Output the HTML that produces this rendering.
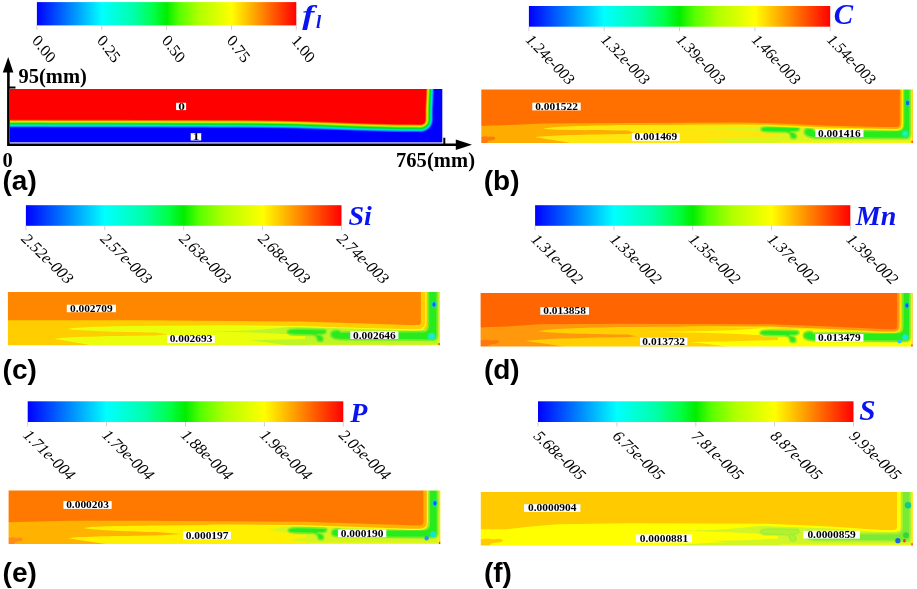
<!DOCTYPE html>
<html lang="en"><head><meta charset="utf-8"><title>Figure</title>
<style>
html,body{margin:0;padding:0;background:#fff}
body{width:917px;height:589px;overflow:hidden;position:relative}
svg{display:block}
.tk{font-family:"Liberation Serif",serif;font-style:italic;fill:#000}
.nm{font-family:"Liberation Serif",serif;font-style:italic;font-weight:bold;fill:#0a14f0}
.lb{font-family:"Liberation Serif",serif;font-weight:bold;fill:#000}
.ax{font-family:"Liberation Serif",serif;font-weight:bold;font-size:20.5px;fill:#000}
.pl{font-family:"Liberation Sans",sans-serif;font-weight:bold;font-size:28px;fill:#000}
</style></head><body>
<svg id="fig" width="917" height="589" viewBox="0 0 917 589">
<defs><linearGradient id="jet" x1="0" y1="0" x2="1" y2="0"><stop offset="0" stop-color="#0000ff"/><stop offset="0.25" stop-color="#00ffff"/><stop offset="0.375" stop-color="#00ffa8"/><stop offset="0.45" stop-color="#00ff48"/><stop offset="0.5" stop-color="#00ee00"/><stop offset="0.55" stop-color="#58ff00"/><stop offset="0.625" stop-color="#b0ff00"/><stop offset="0.75" stop-color="#ffff00"/><stop offset="1" stop-color="#ff0000"/></linearGradient><filter id="bl" x="-2%" y="-10%" width="104%" height="120%"><feGaussianBlur stdDeviation="0.45"/></filter><clipPath id="ca"><rect x="10" y="89" width="432.3" height="53.4"/></clipPath></defs>
<rect width="917" height="589" fill="#fff"/>
<rect x="36.9" y="2.1" width="259.4" height="23.3" fill="url(#jet)"/>
<line x1="36.9" y1="25.4" x2="36.9" y2="29.9" stroke="#c4c4c4" stroke-width="0.8"/>
<text class="tk" font-size="16" transform="translate(32.1 41.5) scale(0.87 1.17) rotate(45)">0.00</text>
<line x1="101.8" y1="25.4" x2="101.8" y2="29.9" stroke="#c4c4c4" stroke-width="0.8"/>
<text class="tk" font-size="16" transform="translate(97 41.5) scale(0.87 1.17) rotate(45)">0.25</text>
<line x1="166.6" y1="25.4" x2="166.6" y2="29.9" stroke="#c4c4c4" stroke-width="0.8"/>
<text class="tk" font-size="16" transform="translate(161.8 41.5) scale(0.87 1.17) rotate(45)">0.50</text>
<line x1="231.5" y1="25.4" x2="231.5" y2="29.9" stroke="#c4c4c4" stroke-width="0.8"/>
<text class="tk" font-size="16" transform="translate(226.7 41.5) scale(0.87 1.17) rotate(45)">0.75</text>
<line x1="296.3" y1="25.4" x2="296.3" y2="29.9" stroke="#c4c4c4" stroke-width="0.8"/>
<text class="tk" font-size="16" transform="translate(291.5 41.5) scale(0.87 1.17) rotate(45)">1.00</text>
<text class="nm" font-size="28" transform="translate(302.2 24.2) scale(1.3 1)">f</text>
<text class="nm" font-size="18.5" x="316" y="27.8">l</text>
<rect x="10" y="89" width="432.3" height="53.4" fill="#0000ff"/>
<g clip-path="url(#ca)">
<polygon points="5,84 434.1,84 434.1,89 433.1,110 433.1,119.8 432.9,122.2 432.2,124.5 431,126.7 429.5,128.5 427.6,130.1 425.4,131.2 423.1,131.9 420.7,132.2 416.7,132.1 396.7,132 376.7,131.5 356.7,130.9 336.7,130.1 316.7,129.4 296.7,128.7 276.7,128.3 256.7,128 236.7,127.9 216.7,127.9 196.7,127.8 176.7,127.8 156.7,127.7 136.7,127.7 116.7,127.6 96.7,127.6 76.7,127.6 56.7,127.6 36.7,127.5 16.7,127.5 5,127.5" fill="#0040ff"/>
<polygon points="5,84 433.5,84 433.5,89 432.5,110 432.5,119.8 432.3,122.1 431.6,124.3 430.5,126.3 429,128.1 427.3,129.6 425.2,130.7 423,131.3 420.7,131.6 416.7,131.5 396.7,131.4 376.7,130.9 356.7,130.3 336.7,129.5 316.7,128.8 296.7,128.1 276.7,127.7 256.7,127.4 236.7,127.3 216.7,127.3 196.7,127.2 176.7,127.2 156.7,127.1 136.7,127.1 116.7,127 96.7,127 76.7,127 56.7,127 36.7,126.9 16.7,126.9 5,126.9" fill="#0082ff"/>
<polygon points="5,84 432.9,84 432.9,89 431.9,110 431.9,119.8 431.7,121.9 431,124.1 430,126 428.6,127.7 426.9,129.1 425,130.1 422.9,130.7 420.7,131 416.7,130.9 396.7,130.8 376.7,130.3 356.7,129.7 336.7,128.9 316.7,128.2 296.7,127.5 276.7,127.1 256.7,126.8 236.7,126.7 216.7,126.7 196.7,126.6 176.7,126.6 156.7,126.5 136.7,126.5 116.7,126.4 96.7,126.4 76.7,126.4 56.7,126.4 36.7,126.3 16.7,126.3 5,126.3" fill="#00c4ff"/>
<polygon points="5,84 432.3,84 432.3,89 431.3,110 431.3,119.8 431.1,121.8 430.5,123.8 429.5,125.7 428.2,127.3 426.6,128.6 424.8,129.6 422.8,130.2 420.7,130.4 416.7,130.3 396.7,130.2 376.7,129.7 356.7,129.1 336.7,128.3 316.7,127.6 296.7,126.9 276.7,126.5 256.7,126.2 236.7,126.1 216.7,126.1 196.7,126 176.7,126 156.7,125.9 136.7,125.9 116.7,125.8 96.7,125.8 76.7,125.8 56.7,125.8 36.7,125.7 16.7,125.7 5,125.7" fill="#00e5dc"/>
<polygon points="5,84 431.7,84 431.7,89 430.7,110 430.7,119.8 430.5,121.7 429.9,123.6 429,125.3 427.8,126.8 426.3,128.1 424.5,129 422.7,129.6 420.7,129.8 416.7,129.7 396.7,129.6 376.7,129.1 356.7,128.5 336.7,127.7 316.7,127 296.7,126.3 276.7,125.9 256.7,125.6 236.7,125.5 216.7,125.5 196.7,125.4 176.7,125.4 156.7,125.3 136.7,125.3 116.7,125.2 96.7,125.2 76.7,125.2 56.7,125.2 36.7,125.1 16.7,125.1 5,125.1" fill="#00e493"/>
<polygon points="5,84 431.1,84 431.1,89 430.1,110 430.1,119.8 429.9,121.6 429.4,123.4 428.5,125 427.3,126.4 425.9,127.6 424.3,128.4 422.5,129 420.7,129.2 416.7,129.1 396.7,129 376.7,128.5 356.7,127.9 336.7,127.1 316.7,126.4 296.7,125.7 276.7,125.3 256.7,125 236.7,124.9 216.7,124.9 196.7,124.8 176.7,124.8 156.7,124.7 136.7,124.7 116.7,124.6 96.7,124.6 76.7,124.6 56.7,124.6 36.7,124.5 16.7,124.5 5,124.5" fill="#00e24a"/>
<polygon points="5,84 430.5,84 430.5,89 429.5,110 429.5,119.8 429.3,121.5 428.8,123.1 428,124.7 426.9,126 425.6,127.1 424.1,127.9 422.4,128.4 420.7,128.6 416.7,128.5 396.7,128.4 376.7,127.9 356.7,127.3 336.7,126.5 316.7,125.8 296.7,125.1 276.7,124.7 256.7,124.4 236.7,124.3 216.7,124.3 196.7,124.2 176.7,124.2 156.7,124.1 136.7,124.1 116.7,124 96.7,124 76.7,124 56.7,124 36.7,123.9 16.7,123.9 5,123.9" fill="#00e101"/>
<polygon points="5,84 429.9,84 429.9,89 428.9,110 428.9,119.8 428.7,121.4 428.3,122.9 427.5,124.3 426.5,125.6 425.3,126.6 423.8,127.3 422.3,127.8 420.7,128 416.7,127.9 396.7,127.8 376.7,127.3 356.7,126.7 336.7,125.9 316.7,125.2 296.7,124.5 276.7,124.1 256.7,123.8 236.7,123.7 216.7,123.7 196.7,123.6 176.7,123.6 156.7,123.5 136.7,123.5 116.7,123.4 96.7,123.4 76.7,123.4 56.7,123.4 36.7,123.3 16.7,123.3 5,123.3" fill="#47e700"/>
<polygon points="5,84 429.3,84 429.3,89 428.3,110 428.3,119.8 428.2,121.2 427.7,122.7 427,124 426.1,125.1 424.9,126.1 423.6,126.8 422.2,127.2 420.7,127.4 416.7,127.3 396.7,127.2 376.7,126.7 356.7,126.1 336.7,125.3 316.7,124.6 296.7,123.9 276.7,123.5 256.7,123.2 236.7,123.1 216.7,123.1 196.7,123 176.7,123 156.7,122.9 136.7,122.9 116.7,122.8 96.7,122.8 76.7,122.8 56.7,122.8 36.7,122.7 16.7,122.7 5,122.7" fill="#8eec00"/>
<polygon points="5,84 428.7,84 428.7,89 427.7,110 427.7,119.8 427.6,121.1 427.2,122.4 426.5,123.7 425.6,124.7 424.6,125.6 423.4,126.2 422.1,126.6 420.7,126.8 416.7,126.7 396.7,126.6 376.7,126.1 356.7,125.5 336.7,124.7 316.7,124 296.7,123.3 276.7,122.9 256.7,122.6 236.7,122.5 216.7,122.5 196.7,122.4 176.7,122.4 156.7,122.3 136.7,122.3 116.7,122.2 96.7,122.2 76.7,122.2 56.7,122.2 36.7,122.1 16.7,122.1 5,122.1" fill="#d6f200"/>
<polygon points="5,84 428.1,84 428.1,89 427.1,110 427.1,119.8 427,121 426.6,122.2 426,123.3 425.2,124.3 424.3,125.1 423.1,125.7 421.9,126 420.7,126.2 416.7,126.1 396.7,126 376.7,125.5 356.7,124.9 336.7,124.1 316.7,123.4 296.7,122.7 276.7,122.3 256.7,122 236.7,121.9 216.7,121.9 196.7,121.8 176.7,121.8 156.7,121.7 136.7,121.7 116.7,121.6 96.7,121.6 76.7,121.6 56.7,121.6 36.7,121.5 16.7,121.5 5,121.5" fill="#fbd200"/>
<polygon points="5,84 427.5,84 427.5,89 426.5,110 426.5,119.8 426.4,120.9 426.1,122 425.5,123 424.8,123.9 423.9,124.6 422.9,125.1 421.8,125.5 420.7,125.6 416.7,125.5 396.7,125.4 376.7,124.9 356.7,124.3 336.7,123.5 316.7,122.8 296.7,122.1 276.7,121.7 256.7,121.4 236.7,121.3 216.7,121.3 196.7,121.2 176.7,121.2 156.7,121.1 136.7,121.1 116.7,121 96.7,121 76.7,121 56.7,121 36.7,120.9 16.7,120.9 5,120.9" fill="#fc8c00"/>
<polygon points="5,84 426.9,84 426.9,89 425.9,110 425.9,119.8 425.8,120.8 425.5,121.8 425,122.7 424.4,123.4 423.6,124.1 422.7,124.6 421.7,124.9 420.7,125 416.7,124.9 396.7,124.8 376.7,124.3 356.7,123.7 336.7,122.9 316.7,122.2 296.7,121.5 276.7,121.1 256.7,120.8 236.7,120.7 216.7,120.7 196.7,120.6 176.7,120.6 156.7,120.5 136.7,120.5 116.7,120.4 96.7,120.4 76.7,120.4 56.7,120.4 36.7,120.3 16.7,120.3 5,120.3" fill="#fe4600"/>
<polygon points="5,84 426.3,84 426.3,89 425.3,110 425.3,119.8 425.2,120.7 424.9,121.5 424.5,122.3 424,123 423.3,123.6 422.5,124 421.6,124.3 420.7,124.4 416.7,124.3 396.7,124.2 376.7,123.7 356.7,123.1 336.7,122.3 316.7,121.6 296.7,120.9 276.7,120.5 256.7,120.2 236.7,120.1 216.7,120.1 196.7,120 176.7,120 156.7,119.9 136.7,119.9 116.7,119.8 96.7,119.8 76.7,119.8 56.7,119.8 36.7,119.7 16.7,119.7 5,119.7" fill="#ff0000"/>
</g>
<rect x="176.1" y="102.8" width="10" height="7.3" fill="#fff"/>
<text class="lb" font-size="9.8" text-anchor="middle" transform="translate(181.5 109.7) scale(1.35 1)">0</text>
<rect x="190.7" y="133.2" width="10.5" height="7.3" fill="#fff"/>
<text class="lb" font-size="9.8" text-anchor="middle" transform="translate(196.1 140) scale(1.35 1)">1</text>
<path d="M8.4 70V144.8H458" fill="none" stroke="#000" stroke-width="2.6"/>
<path d="M8.2 57L2.8 72.6H13.4Z M472 144.8L455.8 139.5V150.1Z" fill="#000"/>
<path d="M9 87.6H15.5M444.3 137.7V144.5" stroke="#000" stroke-width="2"/>
<text class="ax" x="18.5" y="82.8">95(mm)</text>
<text class="ax" x="2.5" y="166.6">0</text>
<text class="ax" x="395.9" y="167" letter-spacing="0.1">765(mm)</text>
<rect x="528.9" y="6" width="301.3" height="20.7" fill="url(#jet)"/>
<line x1="528.9" y1="26.7" x2="528.9" y2="31.2" stroke="#c4c4c4" stroke-width="0.8"/>
<text class="tk" font-size="16" transform="translate(524.9 40.4) scale(0.957 1.0) rotate(45)">1.24e-003</text>
<line x1="604.2" y1="26.7" x2="604.2" y2="31.2" stroke="#c4c4c4" stroke-width="0.8"/>
<text class="tk" font-size="16" transform="translate(600.2 40.4) scale(0.957 1.0) rotate(45)">1.32e-003</text>
<line x1="679.5" y1="26.7" x2="679.5" y2="31.2" stroke="#c4c4c4" stroke-width="0.8"/>
<text class="tk" font-size="16" transform="translate(675.5 40.4) scale(0.957 1.0) rotate(45)">1.39e-003</text>
<line x1="754.9" y1="26.7" x2="754.9" y2="31.2" stroke="#c4c4c4" stroke-width="0.8"/>
<text class="tk" font-size="16" transform="translate(750.9 40.4) scale(0.957 1.0) rotate(45)">1.46e-003</text>
<line x1="830.2" y1="26.7" x2="830.2" y2="31.2" stroke="#c4c4c4" stroke-width="0.8"/>
<text class="tk" font-size="16" transform="translate(826.2 40.4) scale(0.957 1.0) rotate(45)">1.54e-003</text>
<text class="nm" font-size="29" x="833.8" y="23.9">C</text>
<svg x="481.3" y="89.5" width="431.6" height="53.5" viewBox="0 0 431.6 53.5" overflow="hidden">
<g filter="url(#bl)">
<rect x="-3" y="-3" width="437.6" height="59.5" fill="#ffac00"/>
<path d="M61.3 39.3 C69.3 37.1 101.3 36.1 147 35.5 L212 35.1 L431.6 39.5 L431.6 54.5 L95 54.5 C75 50.9 63.7 49.4 53.7 47.8 C65.7 46 103.7 45.1 147 44.6 L152 43.2 L147 41 C111.3 40.8 73.3 41.1 61.3 39.3 Z" fill="#ffe60a"/>
<path d="M169 39.5 C249.6 39 262 38.3 281 36.7 L340 38.5 L431.6 40.4 L431.6 54.5 L300 54.5 C296 47 296 41.2 302 41.2 L281 42 C264 41.6 249.6 40.2 169 39.5 Z" fill="#dcf51e"/>
<path d="M211 49.5 C259.9 48.9 285 47.4 300 46.6 L306 54.5 L256 54.5 C241 52.5 226 50.5 211 49.5 Z" fill="#dcf51e"/>
<rect x="300" y="51.9" width="131.6" height="4" fill="#f5f514"/>
<rect x="429.4" y="-1" width="3" height="55.5" fill="#f5f514"/>
<rect x="430.7" y="-1" width="2" height="55.5" fill="#ffd200"/>
<path d="M279.6 39.7 C279.8 37.6 283 37 290 37 L300 37.2 L316 37.6 C319 38 319 41 315.5 41.8 L309 42.4 C312 42.6 315.4 44.2 315.2 47 C315 50 309.5 50.2 309.2 46.6 C309 44.4 308 42.8 304 42.6 L288 42.4 C283 42.3 279.6 42 279.6 39.7 Z" fill="#c3f028" stroke="#c3f028" stroke-width="3" stroke-linejoin="round"/>
<path d="M279.6 39.7 C279.8 37.6 283 37 290 37 L300 37.2 L316 37.6 C319 38 319 41 315.5 41.8 L309 42.4 C312 42.6 315.4 44.2 315.2 47 C315 50 309.5 50.2 309.2 46.6 C309 44.4 308 42.8 304 42.6 L288 42.4 C283 42.3 279.6 42 279.6 39.7 Z" fill="#28eb1e" stroke="#82eb28" stroke-width="1.4" stroke-linejoin="round"/>
<path d="M323 42.6 C323 37.6 331 37.6 333 41.4 L416.2 41 Q422.2 41 422.2 35 L422.2 -1 L428.8 -1 L428.8 44.5 Q428.8 49 424.3 49 L333 48.4 C330 48 323 47 323 42.6 Z" fill="#c3f028" stroke="#c3f028" stroke-width="3" stroke-linejoin="round"/>
<path d="M323 42.6 C323 37.6 331 37.6 333 41.4 L416.2 41 Q422.2 41 422.2 35 L422.2 -1 L428.8 -1 L428.8 44.5 Q428.8 49 424.3 49 L333 48.4 C330 48 323 47 323 42.6 Z" fill="#28eb1e" stroke="#82eb28" stroke-width="1.6" stroke-linejoin="round"/>
<ellipse cx="426.2" cy="13.5" rx="2.6" ry="3.4" fill="#14dc8c"/>
<ellipse cx="426.2" cy="13.5" rx="1.5" ry="2.2" fill="#1450ff"/>
<ellipse cx="423.8" cy="44.2" rx="3.4" ry="3.4" fill="#14f096"/>
<ellipse cx="423.8" cy="44.2" rx="1.8" ry="1.8" fill="#28f0c8"/>
<rect x="430.2" y="51.3" width="3" height="4" fill="#ff3c00"/>
<path d="M-1 47.5 L4 46.7 L8 47.3 L12 46.9 C15 47.9 15 50.1 11 50.7 L7 51.3 L4.5 54.5 L-1 54.5 Z" fill="#ff7a10"/>
<path d="M-3 -3 L421.8 -3 L421.8 34 Q421.8 40.9 414.9 40.9 L400 40.8 L349 39.5 L286 36.8 L260 36.4 L200 35.1 L200 -3 Z" fill="#fff000"/>
<path d="M-3 -3 L420.3 -3 L420.3 34 Q420.3 39.4 414.9 39.4 L400 39.3 L349 38 L286 35.3 L259 34.9 L147 35.3 L62 35.7 L30 37.2 L-3 38.2 Z" fill="#ffac00"/>
<path d="M-3 -3 L418.5 -3 L418.5 34 Q418.5 37.6 414.9 37.6 L400 37.5 L349 36.2 L286 33.5 L259 33.1 L147 33.5 L62 33.9 L30 35.4 L-3 36.4 Z" fill="#ff7000"/>
</g></svg>
<rect x="532.3" y="102.7" width="48.4" height="7.7" fill="#fff"/>
<text class="lb" font-size="11.4" text-anchor="middle" transform="translate(556.5 109.9) scale(1.0 1)">0.001522</text>
<rect x="632" y="133.3" width="47.7" height="7.5" fill="#fff"/>
<text class="lb" font-size="11.4" text-anchor="middle" transform="translate(655.9 140.3) scale(1.0 1)">0.001469</text>
<rect x="815.3" y="129.2" width="48.2" height="7.8" fill="#fff"/>
<text class="lb" font-size="11.4" text-anchor="middle" transform="translate(839.4 136.5) scale(1.0 1)">0.001416</text>
<rect x="25.9" y="205.2" width="315.6" height="20.6" fill="url(#jet)"/>
<line x1="25.9" y1="225.8" x2="25.9" y2="230.3" stroke="#c4c4c4" stroke-width="0.8"/>
<text class="tk" font-size="16" transform="translate(20.5 239.7) scale(1.02 0.99) rotate(45)">2.52e-003</text>
<line x1="104.8" y1="225.8" x2="104.8" y2="230.3" stroke="#c4c4c4" stroke-width="0.8"/>
<text class="tk" font-size="16" transform="translate(99.4 239.7) scale(1.02 0.99) rotate(45)">2.57e-003</text>
<line x1="183.7" y1="225.8" x2="183.7" y2="230.3" stroke="#c4c4c4" stroke-width="0.8"/>
<text class="tk" font-size="16" transform="translate(178.3 239.7) scale(1.02 0.99) rotate(45)">2.63e-003</text>
<line x1="262.6" y1="225.8" x2="262.6" y2="230.3" stroke="#c4c4c4" stroke-width="0.8"/>
<text class="tk" font-size="16" transform="translate(257.2 239.7) scale(1.02 0.99) rotate(45)">2.68e-003</text>
<line x1="341.5" y1="225.8" x2="341.5" y2="230.3" stroke="#c4c4c4" stroke-width="0.8"/>
<text class="tk" font-size="16" transform="translate(336.1 239.7) scale(1.02 0.99) rotate(45)">2.74e-003</text>
<text class="nm" font-size="28" x="348.4" y="224.6">Si</text>
<svg x="7.9" y="292.1" width="431.9" height="53.2" viewBox="0 0 431.9 53.2" overflow="hidden">
<g filter="url(#bl)">
<rect x="-3" y="-3" width="437.9" height="59.2" fill="#ffcd00"/>
<path d="M59.2 36.9 C67.2 34.7 99.2 34.2 147 33.6 L220 33.2 L431.9 37.3 L431.9 54.2 L88.6 54.2 C68.6 50.6 56 48.3 46 46.7 C58 44.9 96 43.9 147 43.4 L160 42.2 L147 40.4 C109.2 40.2 71.2 38.7 59.2 36.9 Z" fill="#ebff0a"/>
<path d="M194 39.3 C256.6 38.8 262 36.6 281 35 L340 36 L431.9 38 L431.9 54.2 L300 54.2 C296 47 296 41.2 302 41.2 L281 42 C264 41.6 256.6 40 194 39.3 Z" fill="#bef528"/>
<path d="M240 48 C273 47.4 285 47.4 300 46.6 L306 54.2 L285 54.2 C270 52.2 255 49 240 48 Z" fill="#bef528"/>
<rect x="300" y="51.6" width="131.9" height="4" fill="#d2f528"/>
<rect x="429.7" y="-1" width="3" height="55.2" fill="#d2f528"/>
<rect x="431" y="-1" width="2" height="55.2" fill="#ffdc00"/>
<path d="M279.6 39.7 C279.8 37.6 283 37 290 37 L300 37.2 L316 37.6 C319 38 319 41 315.5 41.8 L309 42.4 C312 42.6 315.4 44.2 315.2 47 C315 50 309.5 50.2 309.2 46.6 C309 44.4 308 42.8 304 42.6 L288 42.4 C283 42.3 279.6 42 279.6 39.7 Z" fill="#aaf028" stroke="#aaf028" stroke-width="3" stroke-linejoin="round"/>
<path d="M279.6 39.7 C279.8 37.6 283 37 290 37 L300 37.2 L316 37.6 C319 38 319 41 315.5 41.8 L309 42.4 C312 42.6 315.4 44.2 315.2 47 C315 50 309.5 50.2 309.2 46.6 C309 44.4 308 42.8 304 42.6 L288 42.4 C283 42.3 279.6 42 279.6 39.7 Z" fill="#28eb1e" stroke="#6eeb28" stroke-width="1.4" stroke-linejoin="round"/>
<path d="M323 42.6 C323 37.6 331 37.6 333 40.1 L414.6 39.7 Q420.6 39.7 420.6 33.7 L420.6 -1 L429.1 -1 L429.1 43.4 Q429.1 47.9 424.6 47.9 L333 47.3 C330 46.9 323 47 323 42.6 Z" fill="#aaf028" stroke="#aaf028" stroke-width="3" stroke-linejoin="round"/>
<path d="M323 42.6 C323 37.6 331 37.6 333 40.1 L414.6 39.7 Q420.6 39.7 420.6 33.7 L420.6 -1 L429.1 -1 L429.1 43.4 Q429.1 47.9 424.6 47.9 L333 47.3 C330 46.9 323 47 323 42.6 Z" fill="#28eb1e" stroke="#6eeb28" stroke-width="1.6" stroke-linejoin="round"/>
<ellipse cx="426.1" cy="12.3" rx="2.8" ry="3.6" fill="#14dcb4"/>
<ellipse cx="426.1" cy="12.3" rx="1.5" ry="2.2" fill="#1450ff"/>
<ellipse cx="423.7" cy="44.2" rx="3.6" ry="3.6" fill="#14f0b4"/>
<ellipse cx="423.7" cy="44.2" rx="2" ry="2" fill="#28dcf0"/>
<rect x="430.5" y="51" width="3" height="4" fill="#ff3c00"/>
<path d="M-3 -3 L418.5 -3 L418.5 29.3 Q418.5 38.4 409.4 38.4 L401 38.3 L340 36.5 L292 35 L260 34.7 L200 33 L200 -3 Z" fill="#f0ff19"/>
<path d="M-3 -3 L417.3 -3 L417.3 29.3 Q417.3 37.2 409.4 37.2 L401 37.1 L340 35.3 L292 33.8 L142 32.5 L-3 32.5 Z" fill="#ffcd00"/>
<path d="M-3 -3 L413 -3 L413 29.3 Q413 32.9 409.4 32.9 L401 32.8 L340 31 L292 29.5 L142 28.2 L-3 28.2 Z" fill="#ff8700"/>
</g></svg>
<rect x="66.8" y="304.7" width="49.1" height="7.5" fill="#fff"/>
<text class="lb" font-size="11.4" text-anchor="middle" transform="translate(91.3 311.7) scale(1.0 1)">0.002709</text>
<rect x="167.2" y="335" width="47.6" height="7.9" fill="#fff"/>
<text class="lb" font-size="11.4" text-anchor="middle" transform="translate(191 342.4) scale(1.0 1)">0.002693</text>
<rect x="350.3" y="331.2" width="48.1" height="7.8" fill="#fff"/>
<text class="lb" font-size="11.4" text-anchor="middle" transform="translate(374.4 338.5) scale(1.0 1)">0.002646</text>
<rect x="535.1" y="205.2" width="315.2" height="20.6" fill="url(#jet)"/>
<line x1="535.1" y1="225.8" x2="535.1" y2="230.3" stroke="#c4c4c4" stroke-width="0.8"/>
<text class="tk" font-size="16" transform="translate(530.2 240.2) scale(1.015 0.99) rotate(45)">1.31e-002</text>
<line x1="613.9" y1="225.8" x2="613.9" y2="230.3" stroke="#c4c4c4" stroke-width="0.8"/>
<text class="tk" font-size="16" transform="translate(609 240.2) scale(1.015 0.99) rotate(45)">1.33e-002</text>
<line x1="692.7" y1="225.8" x2="692.7" y2="230.3" stroke="#c4c4c4" stroke-width="0.8"/>
<text class="tk" font-size="16" transform="translate(687.8 240.2) scale(1.015 0.99) rotate(45)">1.35e-002</text>
<line x1="771.5" y1="225.8" x2="771.5" y2="230.3" stroke="#c4c4c4" stroke-width="0.8"/>
<text class="tk" font-size="16" transform="translate(766.6 240.2) scale(1.015 0.99) rotate(45)">1.37e-002</text>
<line x1="850.3" y1="225.8" x2="850.3" y2="230.3" stroke="#c4c4c4" stroke-width="0.8"/>
<text class="tk" font-size="16" transform="translate(845.4 240.2) scale(1.015 0.99) rotate(45)">1.39e-002</text>
<text class="nm" font-size="28" x="855.8" y="224.7">Mn</text>
<svg x="480.6" y="293.1" width="432.1" height="53.5" viewBox="0 0 432.1 53.5" overflow="hidden">
<g filter="url(#bl)">
<rect x="-3" y="-3" width="438.1" height="59.5" fill="#ff980a"/>
<path d="M57.7 38.1 C65.7 35.9 97.7 34.5 147 33.9 L216 33.3 L432.1 38.6 L432.1 54.5 L88 54.5 C68 50.9 55.5 49.5 45.5 47.9 C57.5 46.1 95.5 44.7 147 44.2 L156 43.2 L147 41.4 C107.7 41.2 69.7 39.9 57.7 38.1 Z" fill="#ffcf05"/>
<path d="M160.7 38.8 C247.3 38.3 262 36.6 281 35 L340 36.4 L432.1 39.5 L432.1 54.5 L300 54.5 C296 47 296 41.2 302 41.2 L281 42 C264 41.6 247.3 39.5 160.7 38.8 Z" fill="#ffff00"/>
<path d="M208 49 C258.6 48.4 285 47.4 300 46.6 L306 54.5 L253 54.5 C238 52.5 223 50 208 49 Z" fill="#ffff00"/>
<rect x="300" y="51.9" width="132.1" height="4" fill="#ffff00"/>
<rect x="429.9" y="-1" width="3" height="55.5" fill="#ffff00"/>
<rect x="431.2" y="-1" width="2" height="55.5" fill="#ffc800"/>
<path d="M279.6 39.7 C279.8 37.6 283 37 290 37 L300 37.2 L316 37.6 C319 38 319 41 315.5 41.8 L309 42.4 C312 42.6 315.4 44.2 315.2 47 C315 50 309.5 50.2 309.2 46.6 C309 44.4 308 42.8 304 42.6 L288 42.4 C283 42.3 279.6 42 279.6 39.7 Z" fill="#d2f51e" stroke="#d2f51e" stroke-width="3" stroke-linejoin="round"/>
<path d="M279.6 39.7 C279.8 37.6 283 37 290 37 L300 37.2 L316 37.6 C319 38 319 41 315.5 41.8 L309 42.4 C312 42.6 315.4 44.2 315.2 47 C315 50 309.5 50.2 309.2 46.6 C309 44.4 308 42.8 304 42.6 L288 42.4 C283 42.3 279.6 42 279.6 39.7 Z" fill="#28eb1e" stroke="#82eb28" stroke-width="1.4" stroke-linejoin="round"/>
<path d="M323 42.6 C323 37.6 331 37.6 333 40.1 L416.2 39.7 Q422.2 39.7 422.2 33.7 L422.2 -1 L429.3 -1 L429.3 43.7 Q429.3 48.2 424.8 48.2 L333 47.6 C330 47.2 323 47 323 42.6 Z" fill="#d2f51e" stroke="#d2f51e" stroke-width="3" stroke-linejoin="round"/>
<path d="M323 42.6 C323 37.6 331 37.6 333 40.1 L416.2 39.7 Q422.2 39.7 422.2 33.7 L422.2 -1 L429.3 -1 L429.3 43.7 Q429.3 48.2 424.8 48.2 L333 47.6 C330 47.2 323 47 323 42.6 Z" fill="#28eb1e" stroke="#82eb28" stroke-width="1.6" stroke-linejoin="round"/>
<ellipse cx="426.3" cy="12.3" rx="2.6" ry="3.4" fill="#14dc8c"/>
<ellipse cx="426.3" cy="12.3" rx="1.5" ry="2.2" fill="#1450ff"/>
<ellipse cx="424.6" cy="44.2" rx="3" ry="3" fill="#14e6dc"/>
<ellipse cx="418.9" cy="48.2" rx="2.2" ry="2.2" fill="#28c8f0"/>
<rect x="430.7" y="51.3" width="3" height="4" fill="#ff3c00"/>
<path d="M-1 47.5 L5.3 46.7 L10.6 47.3 L15.9 46.9 C19.8 47.9 19.8 50.1 14.5 50.7 L9.2 51.3 L5.9 54.5 L-1 54.5 Z" fill="#ff780a"/>
<path d="M-3 -3 L420.4 -3 L420.4 32.5 Q420.4 40 412.9 40 L401 39.9 L350 37.4 L290 35 L260 34.9 L200 33.2 L200 -3 Z" fill="#ffe600"/>
<path d="M-3 -3 L418.9 -3 L418.9 32.5 Q418.9 38.5 412.9 38.5 L401 38.4 L350 35.9 L290 33.5 L140 33 L58.6 33.5 L25 35.9 L-3 36.7 Z" fill="#ff980a"/>
<path d="M-3 -3 L416.5 -3 L416.5 32.5 Q416.5 36.1 412.9 36.1 L401 36 L350 33.5 L290 31.1 L140 30.6 L58.6 31.1 L25 33.5 L-3 34.3 Z" fill="#ff6500"/>
</g></svg>
<rect x="540.3" y="307.2" width="48.7" height="7.5" fill="#fff"/>
<text class="lb" font-size="11.4" text-anchor="middle" transform="translate(564.6 314.2) scale(1.0 1)">0.013858</text>
<rect x="640" y="337.7" width="47.4" height="7.7" fill="#fff"/>
<text class="lb" font-size="11.4" text-anchor="middle" transform="translate(663.7 344.9) scale(1.0 1)">0.013732</text>
<rect x="815.3" y="334" width="48.2" height="7.8" fill="#fff"/>
<text class="lb" font-size="11.4" text-anchor="middle" transform="translate(839.4 341.3) scale(1.0 1)">0.013479</text>
<rect x="27.7" y="401.3" width="315.6" height="20.7" fill="url(#jet)"/>
<line x1="27.7" y1="422" x2="27.7" y2="426.5" stroke="#c4c4c4" stroke-width="0.8"/>
<text class="tk" font-size="16" transform="translate(22.3 436) scale(1.02 0.99) rotate(45)">1.71e-004</text>
<line x1="106.6" y1="422" x2="106.6" y2="426.5" stroke="#c4c4c4" stroke-width="0.8"/>
<text class="tk" font-size="16" transform="translate(101.2 436) scale(1.02 0.99) rotate(45)">1.79e-004</text>
<line x1="185.5" y1="422" x2="185.5" y2="426.5" stroke="#c4c4c4" stroke-width="0.8"/>
<text class="tk" font-size="16" transform="translate(180.1 436) scale(1.02 0.99) rotate(45)">1.88e-004</text>
<line x1="264.4" y1="422" x2="264.4" y2="426.5" stroke="#c4c4c4" stroke-width="0.8"/>
<text class="tk" font-size="16" transform="translate(259 436) scale(1.02 0.99) rotate(45)">1.96e-004</text>
<line x1="343.3" y1="422" x2="343.3" y2="426.5" stroke="#c4c4c4" stroke-width="0.8"/>
<text class="tk" font-size="16" transform="translate(337.9 436) scale(1.02 0.99) rotate(45)">2.05e-004</text>
<text class="nm" font-size="28" x="350.2" y="421.9">P</text>
<svg x="8.6" y="490.6" width="431.7" height="53.5" viewBox="0 0 431.7 53.5" overflow="hidden">
<g filter="url(#bl)">
<rect x="-3" y="-3" width="437.7" height="59.5" fill="#ffb205"/>
<path d="M74.9 37.6 C82.9 35.4 114.9 35.6 147 35 L233.4 34.1 L431.7 38.4 L431.7 54.5 L102.7 54.5 C82.7 50.9 69.4 49.3 59.4 47.7 C71.4 45.9 109.4 45.5 147 45 L173.4 43.4 L147 41.4 C124.9 41.2 86.9 39.4 74.9 37.6 Z" fill="#fff005"/>
<path d="M254 39.4 C273.4 38.9 262 37.3 281 35.7 L340 36.8 L431.7 39.1 L431.7 54.5 L300 54.5 C296 47 296 41.2 302 41.2 L281 42 C264 41.6 273.4 40.1 254 39.4 Z" fill="#d7f51e"/>
<path d="M280 49.6 C291 49 285 47.4 300 46.6 L306 54.5 L325 54.5 C310 52.5 295 50.6 280 49.6 Z" fill="#d7f51e"/>
<rect x="300" y="51.9" width="131.7" height="4" fill="#f0fa14"/>
<rect x="429.5" y="-1" width="3" height="55.5" fill="#f0fa14"/>
<rect x="430.8" y="-1" width="2" height="55.5" fill="#ffd200"/>
<path d="M279.6 39.7 C279.8 37.6 283 37 290 37 L300 37.2 L316 37.6 C319 38 319 41 315.5 41.8 L309 42.4 C312 42.6 315.4 44.2 315.2 47 C315 50 309.5 50.2 309.2 46.6 C309 44.4 308 42.8 304 42.6 L288 42.4 C283 42.3 279.6 42 279.6 39.7 Z" fill="#c3f028" stroke="#c3f028" stroke-width="3" stroke-linejoin="round"/>
<path d="M279.6 39.7 C279.8 37.6 283 37 290 37 L300 37.2 L316 37.6 C319 38 319 41 315.5 41.8 L309 42.4 C312 42.6 315.4 44.2 315.2 47 C315 50 309.5 50.2 309.2 46.6 C309 44.4 308 42.8 304 42.6 L288 42.4 C283 42.3 279.6 42 279.6 39.7 Z" fill="#28eb1e" stroke="#82eb28" stroke-width="1.4" stroke-linejoin="round"/>
<path d="M323 42.6 C323 37.6 331 37.6 333 39.6 L414.7 39.2 Q420.7 39.2 420.7 33.2 L420.7 -1 L428.9 -1 L428.9 42.5 Q428.9 47 424.4 47 L333 46.4 C330 46 323 47 323 42.6 Z" fill="#c3f028" stroke="#c3f028" stroke-width="3" stroke-linejoin="round"/>
<path d="M323 42.6 C323 37.6 331 37.6 333 39.6 L414.7 39.2 Q420.7 39.2 420.7 33.2 L420.7 -1 L428.9 -1 L428.9 42.5 Q428.9 47 424.4 47 L333 46.4 C330 46 323 47 323 42.6 Z" fill="#28eb1e" stroke="#82eb28" stroke-width="1.6" stroke-linejoin="round"/>
<ellipse cx="426.3" cy="12.6" rx="2.8" ry="3.6" fill="#14dcb4"/>
<ellipse cx="426.3" cy="12.6" rx="1.5" ry="2.2" fill="#1450ff"/>
<ellipse cx="424.6" cy="43.7" rx="3" ry="3" fill="#14e6c8"/>
<ellipse cx="418.1" cy="47.7" rx="2.2" ry="2.2" fill="#2896f0"/>
<rect x="430.3" y="51.3" width="3" height="4" fill="#ff3c00"/>
<path d="M-1 47.5 L4 46.7 L8 47.3 L12 46.9 C15 47.9 15 50.1 11 50.7 L7 51.3 L4.5 54.5 L-1 54.5 Z" fill="#ff8c14"/>
<path d="M-3 -3 L419.4 -3 L419.4 31.2 Q419.4 39.4 411.2 39.4 L401 39.3 L350 37.6 L292 35.7 L260 35.5 L200 33.9 L200 -3 Z" fill="#fff514"/>
<path d="M-3 -3 L418.2 -3 L418.2 31.2 Q418.2 38.2 411.2 38.2 L401 38.1 L350 36.4 L292 34.5 L142 33.5 L61.8 33.5 L30 34.4 L-3 35.1 Z" fill="#ffb205"/>
<path d="M-3 -3 L414.8 -3 L414.8 31.2 Q414.8 34.8 411.2 34.8 L401 34.7 L350 33 L292 31.1 L142 30.1 L61.8 30.1 L30 31 L-3 31.7 Z" fill="#ff7900"/>
</g></svg>
<rect x="63.4" y="501.1" width="48.3" height="7.8" fill="#fff"/>
<text class="lb" font-size="11.4" text-anchor="middle" transform="translate(87.5 508.4) scale(1.0 1)">0.000203</text>
<rect x="183.2" y="531.5" width="47.8" height="7.8" fill="#fff"/>
<text class="lb" font-size="11.4" text-anchor="middle" transform="translate(207.1 538.8) scale(1.0 1)">0.000197</text>
<rect x="337.9" y="529.5" width="48.4" height="7.8" fill="#fff"/>
<text class="lb" font-size="11.4" text-anchor="middle" transform="translate(362.1 536.8) scale(1.0 1)">0.000190</text>
<rect x="538" y="401.3" width="315.5" height="20.7" fill="url(#jet)"/>
<line x1="538" y1="422" x2="538" y2="426.5" stroke="#c4c4c4" stroke-width="0.8"/>
<text class="tk" font-size="16" transform="translate(532.8 436.9) scale(1.02 0.97) rotate(45)">5.68e-005</text>
<line x1="616.9" y1="422" x2="616.9" y2="426.5" stroke="#c4c4c4" stroke-width="0.8"/>
<text class="tk" font-size="16" transform="translate(611.7 436.9) scale(1.02 0.97) rotate(45)">6.75e-005</text>
<line x1="695.8" y1="422" x2="695.8" y2="426.5" stroke="#c4c4c4" stroke-width="0.8"/>
<text class="tk" font-size="16" transform="translate(690.5 436.9) scale(1.02 0.97) rotate(45)">7.81e-005</text>
<line x1="774.6" y1="422" x2="774.6" y2="426.5" stroke="#c4c4c4" stroke-width="0.8"/>
<text class="tk" font-size="16" transform="translate(769.4 436.9) scale(1.02 0.97) rotate(45)">8.87e-005</text>
<line x1="853.5" y1="422" x2="853.5" y2="426.5" stroke="#c4c4c4" stroke-width="0.8"/>
<text class="tk" font-size="16" transform="translate(848.3 436.9) scale(1.02 0.97) rotate(45)">9.93e-005</text>
<text class="nm" font-size="29.3" x="859.2" y="419.8">S</text>
<svg x="480.8" y="491.9" width="432" height="53.5" viewBox="0 0 432 53.5" overflow="hidden">
<g filter="url(#bl)">
<rect x="-3" y="-3" width="438" height="59.5" fill="#ffff00"/>
<path d="M180 39 C252.7 38.5 262 35.4 281 33.8 L340 35.4 L432 39.5 L432 54.5 L300 54.5 C296 47 296 41.2 302 41.2 L281 42 C264 41.6 252.7 39.7 180 39 Z" fill="#d2f528"/>
<path d="M230 49 C268.5 48.4 285 47.4 300 46.6 L306 54.5 L275 54.5 C260 52.5 245 50 230 49 Z" fill="#d2f528"/>
<path d="M170 54.5 L230 50.8 L300 48.5 L306 54.5 Z" fill="#d2f528"/>
<rect x="300" y="51.9" width="132" height="4" fill="#e6fa1e"/>
<rect x="429.8" y="-1" width="3" height="55.5" fill="#e6fa1e"/>
<rect x="431.1" y="-1" width="2" height="55.5" fill="#ffe100"/>
<path d="M279.6 39.7 C279.8 37.6 283 37 290 37 L300 37.2 L316 37.6 C319 38 319 41 315.5 41.8 L309 42.4 C312 42.6 315.4 44.2 315.2 47 C315 50 309.5 50.2 309.2 46.6 C309 44.4 308 42.8 304 42.6 L288 42.4 C283 42.3 279.6 42 279.6 39.7 Z" fill="#c8f52d" stroke="#c8f52d" stroke-width="3" stroke-linejoin="round"/>
<path d="M279.6 39.7 C279.8 37.6 283 37 290 37 L300 37.2 L316 37.6 C319 38 319 41 315.5 41.8 L309 42.4 C312 42.6 315.4 44.2 315.2 47 C315 50 309.5 50.2 309.2 46.6 C309 44.4 308 42.8 304 42.6 L288 42.4 C283 42.3 279.6 42 279.6 39.7 Z" fill="#b4f032" stroke="#a0f032" stroke-width="1.4" stroke-linejoin="round"/>
<path d="M323 42.6 C323 37.6 331 37.6 333 42.1 L415.4 41.7 Q421.4 41.7 421.4 35.7 L421.4 -1 L429.2 -1 L429.2 44.6 Q429.2 49.1 424.7 49.1 L333 48.5 C330 48.1 323 47 323 42.6 Z" fill="#c8f52d" stroke="#c8f52d" stroke-width="3" stroke-linejoin="round"/>
<path d="M323 42.6 C323 37.6 331 37.6 333 42.1 L415.4 41.7 Q421.4 41.7 421.4 35.7 L421.4 -1 L429.2 -1 L429.2 44.6 Q429.2 49.1 424.7 49.1 L333 48.5 C330 48.1 323 47 323 42.6 Z" fill="#78eb32" stroke="#a0f032" stroke-width="1.6" stroke-linejoin="round"/>
<ellipse cx="427.2" cy="13.4" rx="3.2" ry="3.2" fill="#14c88c"/>
<ellipse cx="425.2" cy="43.4" rx="3" ry="3" fill="#3cd23c"/>
<ellipse cx="417.1" cy="48.8" rx="2.6" ry="2.6" fill="#1e64e6"/>
<ellipse cx="423.6" cy="48.8" rx="1.4" ry="1.8" fill="#f03c1e"/>
<rect x="430.6" y="51.3" width="3" height="4" fill="#ff3c00"/>
<path d="M-1 47.5 L6.3 46.7 L12.6 47.3 L18.9 46.9 C23.6 47.9 23.6 50.1 17.3 50.7 L11 51.3 L7.1 54.5 L-1 54.5 Z" fill="#ffcb00"/>
<path d="M-3 -3 L418.4 -3 L418.4 34.5 Q418.4 40.3 412.6 40.3 L400 40.2 L350 36.7 L286 34.1 L260 34 L200 31.6 L200 -3 Z" fill="#ffff00"/>
<path d="M-3 -3 L416.2 -3 L416.2 34.5 Q416.2 38.1 412.6 38.1 L400 38 L350 34.5 L286 31.9 L146 31.4 L78 32.4 L50 34.5 L25.6 37.3 L-3 37.3 Z" fill="#ffcb00"/>
</g></svg>
<rect x="524" y="504.2" width="56.4" height="7.7" fill="#fff"/>
<text class="lb" font-size="11.4" text-anchor="middle" transform="translate(552.2 511.4) scale(1.0 1)">0.0000904</text>
<rect x="635.9" y="534.4" width="56.1" height="8" fill="#fff"/>
<text class="lb" font-size="11.4" text-anchor="middle" transform="translate(664 541.9) scale(1.0 1)">0.0000881</text>
<rect x="803.3" y="530.8" width="56.6" height="7.8" fill="#fff"/>
<text class="lb" font-size="11.4" text-anchor="middle" transform="translate(831.6 538.1) scale(1.0 1)">0.0000859</text>
<text class="pl" x="2.5" y="190.3">(a)</text>
<text class="pl" x="483.8" y="190.3">(b)</text>
<text class="pl" x="2.6" y="379.3">(c)</text>
<text class="pl" x="483.9" y="379.3">(d)</text>
<text class="pl" x="2.6" y="581.7">(e)</text>
<text class="pl" x="483.9" y="581.7">(f)</text>
</svg>
</body></html>
